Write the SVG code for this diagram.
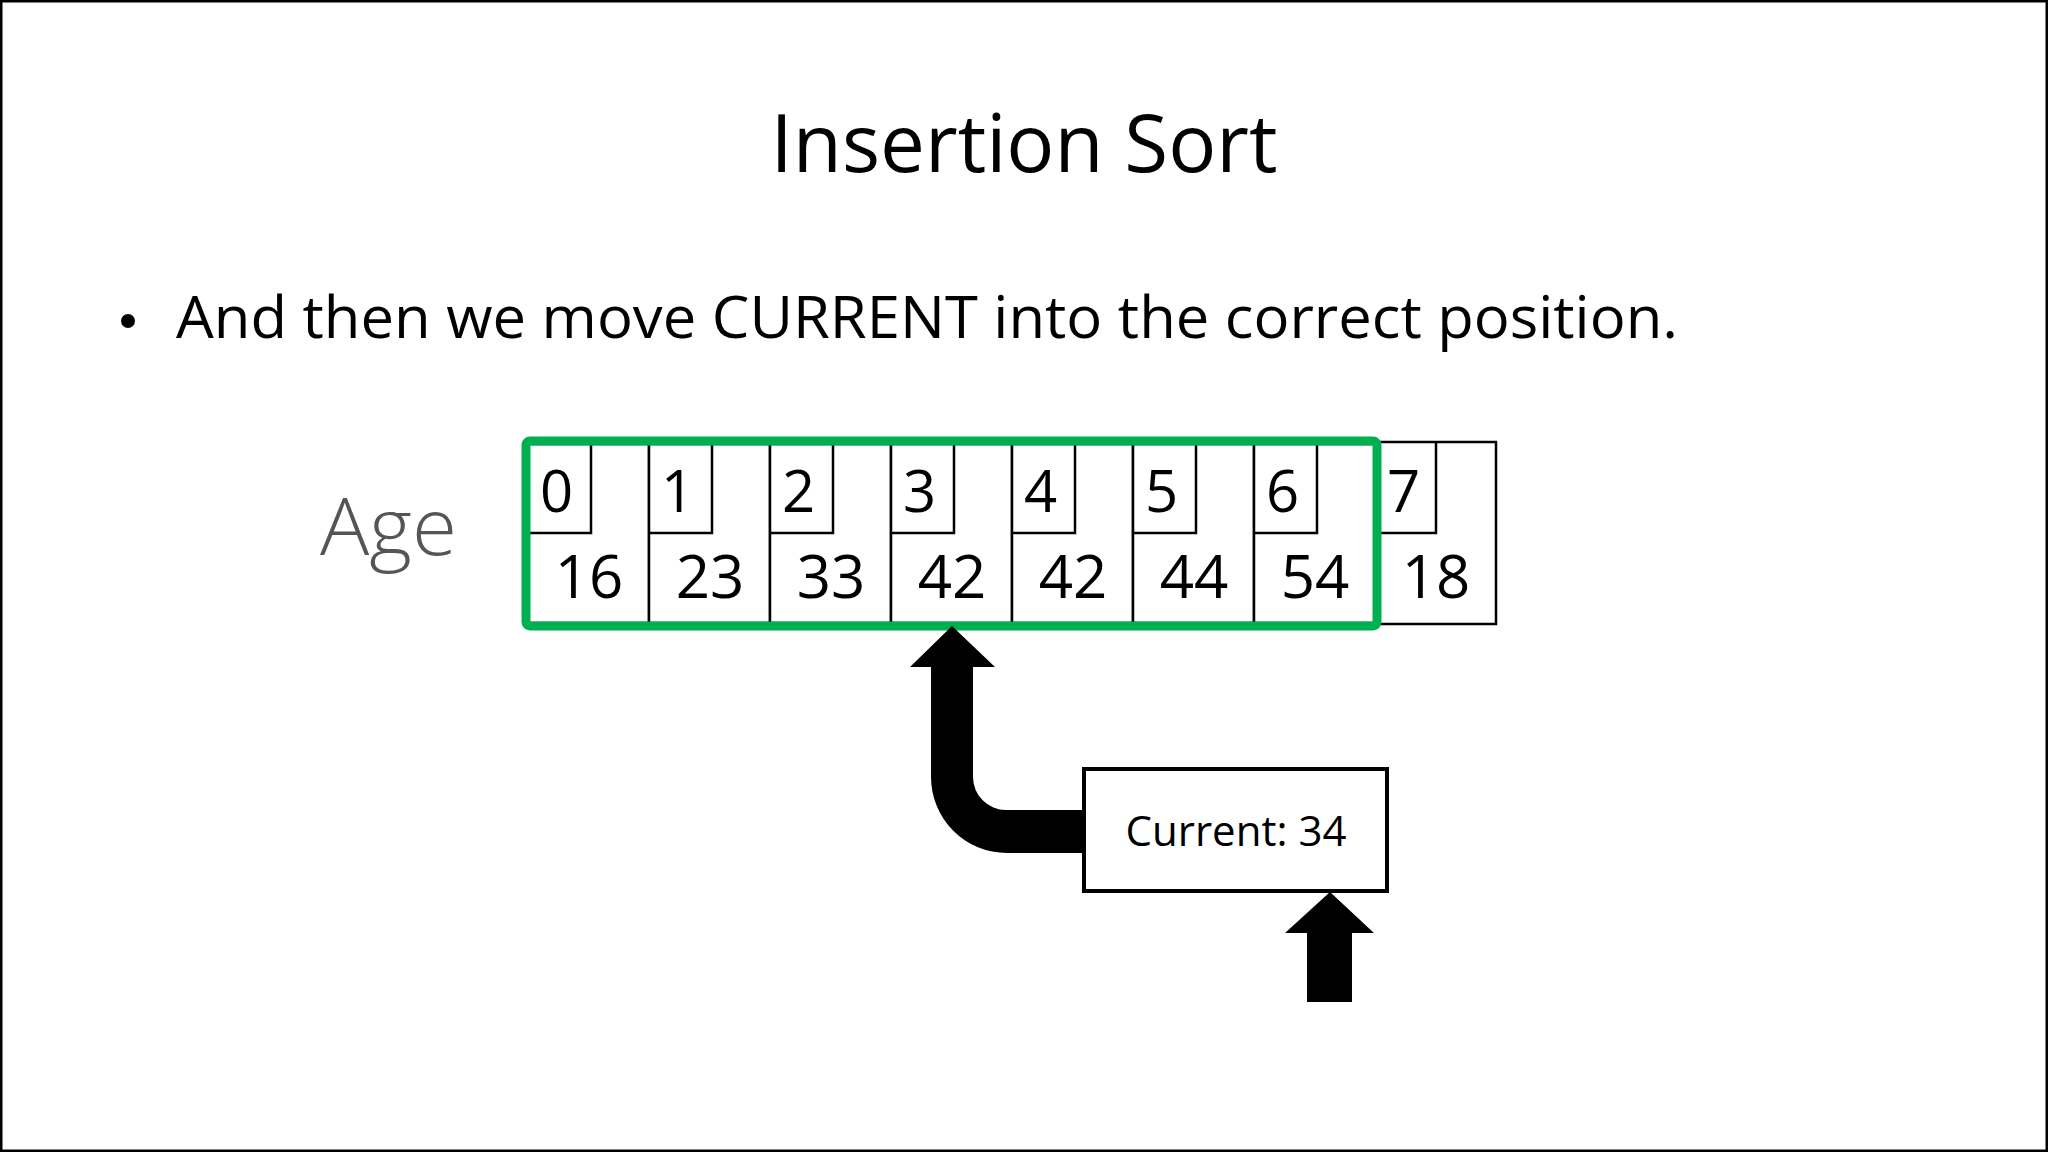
<svg xmlns="http://www.w3.org/2000/svg" width="2048" height="1152" viewBox="0 0 2048 1152">
<style>
text{font-family:"Open Sans","Liberation Sans",sans-serif;fill:#000}
.idx{font-size:58px}
.val{font-size:60px;text-anchor:middle}
.cell{fill:#fff;stroke:#000;stroke-width:2.5}
.ib{fill:none;stroke:#000;stroke-width:2.5}
</style>
<rect x="1" y="1" width="2046" height="1150" fill="#fff" stroke="#000" stroke-width="3"/>
<text x="1024" y="172" font-size="80" text-anchor="middle">Insertion Sort</text>
<circle cx="128" cy="321" r="7" fill="#000"/>
<text x="176" y="338" font-size="58" textLength="1502" lengthAdjust="spacingAndGlyphs">And then we move CURRENT into the correct position.</text>
<text x="320" y="555" font-size="80" fill="#555" style="fill:#555;font-weight:300" textLength="137" lengthAdjust="spacingAndGlyphs">Age</text>
<g id="cells">
<g id="c0"><rect class="cell" x="528" y="444" width="121" height="179"/><polyline class="ib" points="528,533 591,533 591,444"/><text class="idx" x="540" y="512">0</text><text class="val" x="589" y="598">16</text></g>
<g id="c1"><rect class="cell" x="649" y="444" width="121" height="179"/><polyline class="ib" points="649,533 712,533 712,444"/><text class="idx" x="661" y="512">1</text><text class="val" x="710" y="598">23</text></g>
<g id="c2"><rect class="cell" x="770" y="444" width="121" height="179"/><polyline class="ib" points="770,533 833,533 833,444"/><text class="idx" x="782" y="512">2</text><text class="val" x="831" y="598">33</text></g>
<g id="c3"><rect class="cell" x="891" y="444" width="121" height="179"/><polyline class="ib" points="891,533 954,533 954,444"/><text class="idx" x="903" y="512">3</text><text class="val" x="952" y="598">42</text></g>
<g id="c4"><rect class="cell" x="1012" y="444" width="121" height="179"/><polyline class="ib" points="1012,533 1075,533 1075,444"/><text class="idx" x="1024" y="512">4</text><text class="val" x="1073" y="598">42</text></g>
<g id="c5"><rect class="cell" x="1133" y="444" width="121" height="179"/><polyline class="ib" points="1133,533 1196,533 1196,444"/><text class="idx" x="1145" y="512">5</text><text class="val" x="1194" y="598">44</text></g>
<g id="c6"><rect class="cell" x="1254" y="444" width="121" height="179"/><polyline class="ib" points="1254,533 1317,533 1317,444"/><text class="idx" x="1266" y="512">6</text><text class="val" x="1315" y="598">54</text></g>
<g id="c7"><rect class="cell" x="1375" y="442" width="121" height="182"/><polyline class="ib" points="1375,533 1436,533 1436,442"/><text class="idx" x="1387" y="512">7</text><text class="val" x="1436" y="598">18</text></g>
</g>
<rect id="sorted" x="526" y="441" width="851" height="185" rx="4" fill="none" stroke="#00b050" stroke-width="9"/>
<g id="current"><rect x="1084" y="769" width="303" height="122" fill="#fff" stroke="#000" stroke-width="4"/><text x="1236" y="846" font-size="42" text-anchor="middle">Current: 34</text></g>
<g id="connectors">
<path d="M931,667 L931,777 A76,76 0 0 0 1007,853 L1082,853 L1082,810 L1006,810 A33,33 0 0 1 973,777 L973,667 L995,667 L952,626 L910,667 Z" fill="#000"/>
<path d="M1307,1002 L1307,933 L1285,933 L1330,892 L1374,933 L1352,933 L1352,1002 Z" fill="#000"/>
</g>
</svg>
